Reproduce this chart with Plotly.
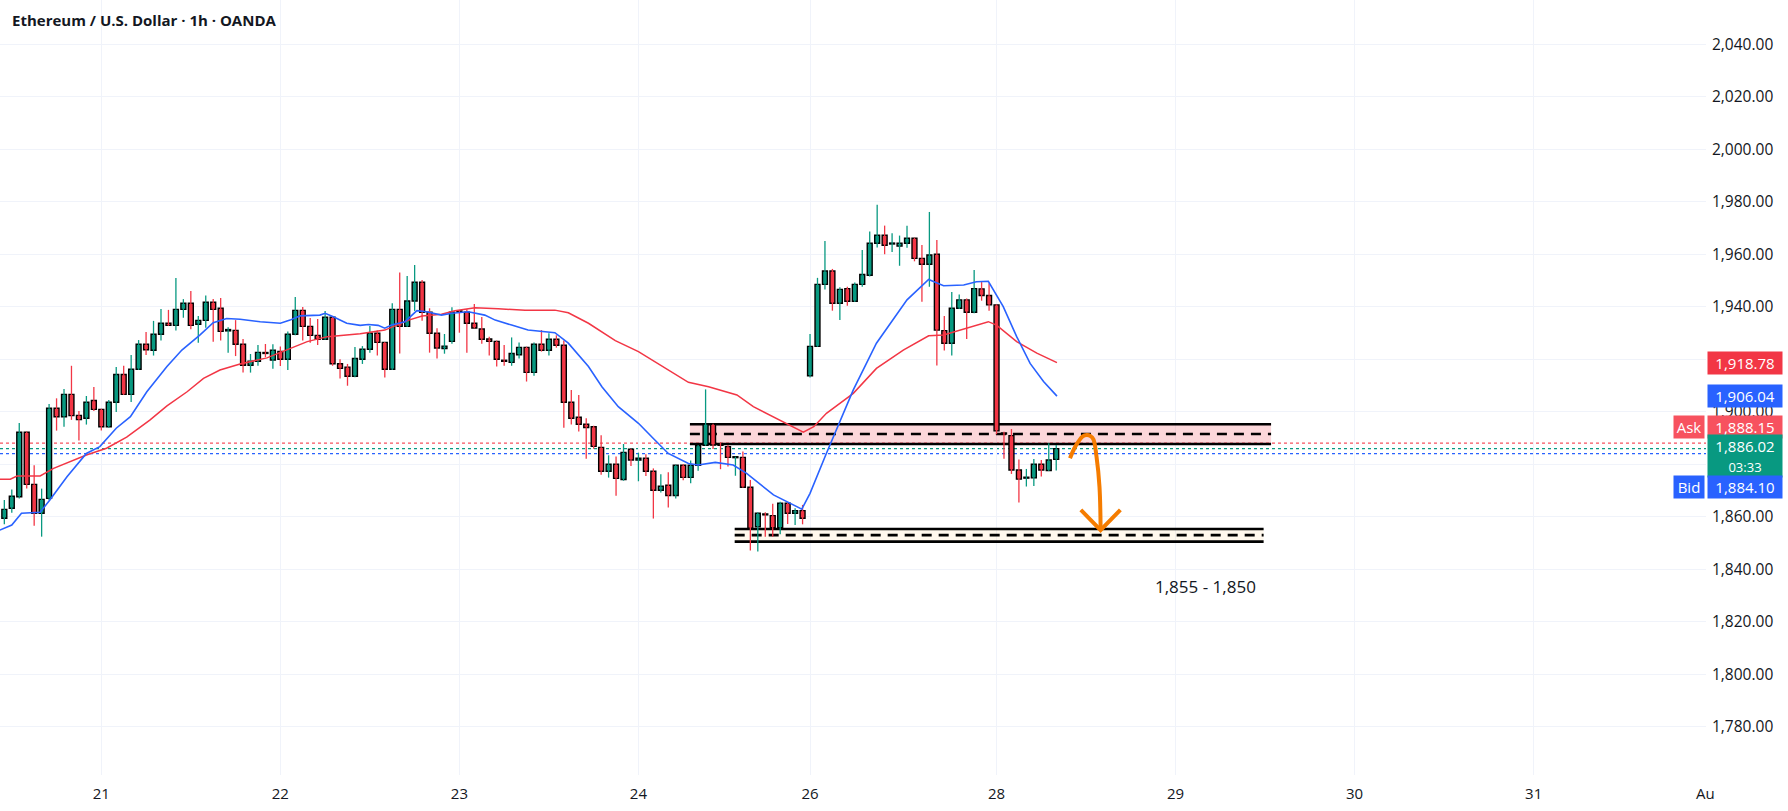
import plotly.graph_objects as go

# ETH/USD 1h candles (bar index on x)
opens = [1859.5, 1863.3, 1867.7, 1892.3, 1872.4, 1861.4, 1867.1, 1901.4, 1898.2, 1906.7,
         1898.7, 1897.6, 1904.4, 1901.0, 1894.4, 1903.7, 1914.3, 1906.7, 1916.3, 1925.8,
         1923.5, 1929.6, 1933.8, 1933.0, 1939.1, 1941.4, 1933.4, 1934.9, 1941.8, 1939.5,
         1930.9, 1931.1, 1925.8, 1917.8, 1919.3, 1922.6, 1919.8, 1923.1, 1920.1, 1929.6,
         1938.7, 1932.6, 1929.2, 1927.7, 1936.1, 1918.4, 1917.1, 1913.6, 1920.1, 1923.9,
         1930.0, 1926.5, 1916.3, 1939.1, 1932.6, 1942.3, 1949.4, 1938.0, 1930.0, 1924.2,
         1926.9, 1938.5, 1938.0, 1933.8, 1931.6, 1927.8, 1926.9, 1919.7, 1918.9, 1921.8,
         1924.6, 1915.1, 1925.8, 1923.5, 1927.7, 1925.4, 1903.7, 1898.0, 1895.3, 1894.4,
         1886.5, 1877.4, 1880.1, 1874.3, 1885.8, 1881.7, 1882.4, 1877.4, 1870.2, 1872.1,
         1868.2, 1879.7, 1875.1, 1879.7, 1887.3, 1895.3, 1887.7, 1886.8, 1882.6, 1882.7,
         1871.3, 1856.3, 1861.0, 1860.5, 1855.9, 1865.2, 1861.4, 1862.4, 1913.8, 1925.0,
         1948.6, 1953.7, 1941.4, 1947.0, 1942.2, 1948.6, 1952.1, 1964.3, 1967.3, 1964.0,
         1963.2, 1964.3, 1966.2, 1958.5, 1956.3, 1960.1, 1931.0, 1926.2, 1939.5, 1942.7,
         1938.0, 1946.9, 1944.4, 1940.8, 1892.0, 1891.0, 1877.9, 1874.8, 1874.9, 1880.1,
         1877.7, 1881.95]
highs = [1866.5, 1870.5, 1895.8, 1892.6, 1879.7, 1870.8, 1903.0, 1905.2, 1908.8, 1917.6,
         1900.4, 1906.1, 1909.5, 1901.2, 1904.6, 1917.1, 1917.6, 1921.7, 1927.4, 1930.5,
         1934.7, 1939.2, 1938.9, 1951.0, 1943.0, 1946.1, 1936.6, 1944.4, 1943.0, 1943.4,
         1932.3, 1935.0, 1927.8, 1922.1, 1925.5, 1925.9, 1925.8, 1924.9, 1930.7, 1943.8,
         1940.0, 1935.8, 1935.4, 1938.5, 1936.3, 1920.1, 1918.3, 1924.8, 1925.1, 1932.8,
         1931.0, 1926.7, 1941.4, 1953.1, 1951.8, 1956.0, 1950.3, 1939.5, 1931.9, 1929.7,
         1939.9, 1938.7, 1939.1, 1941.1, 1936.2, 1928.7, 1927.2, 1925.5, 1928.4, 1926.5,
         1924.9, 1926.5, 1931.2, 1930.0, 1929.2, 1927.2, 1908.4, 1906.5, 1897.6, 1894.8,
         1891.1, 1883.5, 1883.0, 1887.8, 1886.1, 1884.5, 1883.9, 1878.5, 1876.3, 1877.0,
         1879.9, 1880.2, 1881.5, 1887.4, 1908.6, 1895.5, 1888.4, 1887.4, 1883.0, 1884.9,
         1874.1, 1861.8, 1861.8, 1865.0, 1865.8, 1865.5, 1863.3, 1864.6, 1929.7, 1951.1,
         1965.1, 1954.5, 1947.5, 1947.7, 1949.3, 1961.7, 1968.8, 1978.9, 1971.0, 1968.1,
         1967.2, 1970.9, 1966.4, 1963.6, 1976.2, 1965.5, 1936.6, 1945.7, 1944.8, 1943.2,
         1954.1, 1949.5, 1949.0, 1941.0, 1892.5, 1893.5, 1881.9, 1878.3, 1882.1, 1881.7,
         1888.1, 1887.4]
lows = [1857.2, 1861.6, 1867.0, 1870.8, 1856.7, 1852.5, 1866.5, 1892.9, 1894.4, 1897.0,
        1889.1, 1895.2, 1900.4, 1892.9, 1894.0, 1900.0, 1906.5, 1903.8, 1916.0, 1921.7,
        1921.5, 1927.2, 1932.8, 1931.0, 1935.9, 1931.5, 1926.4, 1932.1, 1926.8, 1927.2,
        1922.6, 1921.3, 1915.0, 1915.0, 1917.6, 1920.9, 1916.5, 1917.5, 1916.0, 1929.2,
        1927.2, 1926.4, 1925.5, 1927.5, 1917.6, 1912.8, 1910.0, 1913.2, 1918.3, 1922.6,
        1921.5, 1913.1, 1916.0, 1922.3, 1932.4, 1938.5, 1934.8, 1922.6, 1920.4, 1922.2,
        1926.0, 1930.2, 1922.6, 1931.8, 1926.0, 1921.5, 1917.3, 1917.6, 1917.6, 1920.4,
        1911.6, 1913.8, 1923.0, 1921.5, 1924.5, 1894.0, 1895.2, 1892.6, 1882.2, 1886.0,
        1876.1, 1875.0, 1868.1, 1873.8, 1879.4, 1873.6, 1875.6, 1859.4, 1869.3, 1863.6,
        1867.0, 1874.0, 1872.8, 1877.6, 1887.1, 1885.9, 1878.2, 1879.2, 1875.7, 1871.1,
        1847.2, 1846.8, 1852.5, 1852.5, 1853.4, 1857.3, 1856.9, 1857.2, 1913.1, 1924.8,
        1946.7, 1938.6, 1935.0, 1940.5, 1941.9, 1947.7, 1951.6, 1962.7, 1960.1, 1960.9,
        1955.7, 1962.6, 1957.4, 1942.0, 1947.7, 1917.7, 1923.4, 1921.5, 1939.2, 1927.8,
        1937.6, 1942.4, 1938.6, 1891.5, 1882.2, 1876.4, 1865.5, 1871.6, 1871.8, 1875.4,
        1877.5, 1877.7]
closes = [1862.9, 1867.9, 1892.3, 1872.4, 1861.4, 1866.7, 1901.4, 1898.2, 1906.7, 1898.6,
          1897.1, 1903.7, 1901.0, 1894.4, 1903.7, 1914.3, 1906.7, 1916.3, 1925.8, 1923.7,
          1929.6, 1933.8, 1933.0, 1939.1, 1941.4, 1933.0, 1934.9, 1941.8, 1939.1, 1930.7,
          1931.4, 1925.8, 1917.8, 1919.3, 1922.7, 1922.3, 1923.5, 1920.1, 1929.6, 1938.7,
          1932.6, 1929.2, 1927.7, 1936.1, 1918.4, 1916.6, 1913.6, 1920.4, 1923.9, 1930.0,
          1926.5, 1916.3, 1939.1, 1932.6, 1942.3, 1949.4, 1938.0, 1930.0, 1924.4, 1925.1,
          1938.0, 1938.1, 1933.8, 1932.0, 1927.7, 1926.9, 1920.1, 1919.3, 1922.3, 1924.6,
          1915.1, 1925.8, 1923.5, 1927.7, 1925.4, 1903.7, 1897.6, 1895.3, 1894.1, 1886.9,
          1877.4, 1880.1, 1874.7, 1884.6, 1881.7, 1882.4, 1877.4, 1870.2, 1871.7, 1868.2,
          1879.7, 1875.1, 1879.7, 1887.2, 1895.4, 1887.4, 1887.3, 1882.7, 1882.8, 1871.3,
          1855.7, 1861.4, 1860.8, 1855.9, 1865.2, 1861.4, 1862.4, 1859.5, 1925.0, 1948.6,
          1953.7, 1941.4, 1946.7, 1942.2, 1948.6, 1952.4, 1964.3, 1967.3, 1963.5, 1964.2,
          1964.3, 1966.2, 1958.5, 1956.3, 1959.8, 1931.2, 1926.2, 1939.5, 1942.7, 1938.0,
          1947.0, 1944.4, 1940.8, 1892.8, 1891.6, 1877.9, 1874.4, 1875.0, 1880.1, 1877.9,
          1881.7, 1886.02]

# moving averages, sampled along the drawn lines
fast_ma_x = [-0.6, 1, 2.3, 4.8, 6.1, 8.4, 11, 12.8, 15, 16.9, 19.1, 21.8, 23.8, 26.2, 28,
             29.8, 31.6, 34.3, 37, 38.3, 39.6, 42.3, 43, 44.1, 45.9, 47.7, 48.8, 50.1, 51,
             51.9, 53.7, 55.3, 56.6, 58.6, 60, 62.2, 64.4, 65.8, 68, 69.3, 70.2, 73.8, 75.6,
             78.3, 80.1, 82.3, 85, 87.2, 89, 91.7, 93, 95.3, 97.7, 99.5, 103.1, 106.9, 108,
             110.2, 112.5, 113.8, 116.9, 121, 123.9, 125.9, 128.6, 130.3, 131.9, 133.9,
             135.7, 137.5, 139.3, 141.1]
fast_ma_y = [1855.0, 1856.9, 1861.4, 1861.8, 1866.5, 1875.3, 1884.2, 1886.8, 1893.8, 1898.2,
             1907.7, 1917.3, 1923.6, 1929.3, 1934.0, 1935.6, 1935.3, 1934.4, 1933.8, 1935.0,
             1936.6, 1936.9, 1937.6, 1936.3, 1933.8, 1933.0, 1933.3, 1933.0, 1931.9, 1933.1,
             1934.4, 1938.6, 1938.2, 1936.9, 1937.6, 1938.2, 1936.9, 1935.0, 1933.1, 1931.9,
             1931.2, 1930.2, 1926.2, 1917.3, 1909.6, 1902.0, 1895.7, 1889.3, 1884.2, 1880.4,
             1879.8, 1880.8, 1879.8, 1876.6, 1868.4, 1863.0, 1869.0, 1884.3, 1899.5, 1908.4,
             1926.2, 1942.7, 1950.5, 1948.1, 1948.4, 1949.6, 1949.8, 1940.1, 1928.7, 1918.5,
             1911.6, 1906.04]
slow_ma_x = [-0.6, 0.8, 1.7, 4.8, 6.6, 8.4, 11, 13.7, 16.4, 19.5, 21.8, 24.5, 26.7, 28.9,
             31.6, 35.2, 37.9, 40.6, 43.3, 45.9, 47.7, 51, 54.2, 56, 58.6, 60.4, 63.1, 66.2,
             69.8, 73.8, 75.6, 78.3, 81.9, 85, 89, 91.7, 94.4, 98.2, 100.4, 103.1, 107.1,
             108.5, 110.2, 113.8, 116.9, 120.5, 123.9, 125.9, 128.6, 131.9, 133, 135.7,
             138.4, 141.1]
slow_ma_y = [1874.4, 1874.4, 1875.6, 1875.6, 1878.5, 1880.7, 1883.6, 1886.2, 1890.4, 1896.9,
             1902.3, 1907.7, 1912.8, 1916.0, 1918.3, 1920.6, 1923.6, 1926.8, 1928.7, 1929.3,
             1929.8, 1931.2, 1935.0, 1936.6, 1937.2, 1938.6, 1939.7, 1939.3, 1938.8, 1938.8,
             1937.8, 1933.8, 1927.2, 1923.0, 1916.0, 1911.3, 1909.6, 1906.5, 1902.0, 1898.2,
             1892.3, 1894.4, 1899.5, 1907.1, 1916.6, 1923.6, 1929.0, 1929.3, 1931.5, 1934.4,
             1933.1, 1926.8, 1922.4, 1918.78]

day_ticks = [13, 37, 61, 85, 108, 133, 157, 181, 205, 228]
day_labels = ['21', '22', '23', '24', '26', '28', '29', '30', '31', 'Au']
price_ticks = [1780, 1800, 1820, 1840, 1860, 1880, 1900, 1920, 1940, 1960, 1980, 2000, 2020, 2040]
# the scale hides the labels that sit under the price tags
hidden_price_labels = [1880, 1920]

# drawn zones: [x start, x end, top, middle, bottom]
resist_zone = [91.9, 169.8, 1895.3, 1891.6, 1887.8]
support_zone = [97.9, 168.8, 1855.4, 1853.1, 1850.6]
support_label = '1,855 - 1,850'

# hand drawn arrow
arrow_x = [142.85, 143.4, 143.97, 144.5, 145.1, 145.6, 146.0, 146.4, 146.8, 146.95]
arrow_y = [1882.4, 1886.0, 1888.7, 1890.6, 1891.2, 1890.8, 1889.5, 1883.0, 1871.5, 1856.0]
arrow_head_x = [144.3, 146.95, 149.6]
arrow_head_y = [1862.7, 1855.0, 1862.7]

ask_price = 1888.15
last_price = 1886.02
bid_price = 1884.10
countdown = '03:33'

GREEN = '#089981'
RED = '#f23645'
ASK_RED = '#f7525f'
BLUE = '#2962ff'
GRID = '#f0f3fa'
TXT = '#131722'
FONT = 'Open Sans'

idx = list(range(len(closes)))
rising = [c >= o for o, c in zip(opens, closes)]

fig = go.Figure()

# wicks
for want, col in [(True, GREEN), (False, RED)]:
    wx, wy = [], []
    for i in idx:
        if rising[i] == want:
            wx += [i, i, None]
            wy += [lows[i], highs[i], None]
    fig.add_trace(go.Scatter(x=wx, y=wy, mode='lines', line=dict(color=col, width=1.3),
                             hoverinfo='skip'))

# bodies with dark outline
fig.add_trace(go.Bar(
    x=idx,
    base=[min(o, c) for o, c in zip(opens, closes)],
    y=[max(abs(c - o), 0.35) for o, c in zip(opens, closes)],
    width=0.66,
    marker=dict(color=[GREEN if r else RED for r in rising],
                line=dict(color='#000000', width=1.4)),
    hoverinfo='skip'))

fig.add_trace(go.Scatter(x=slow_ma_x, y=slow_ma_y, mode='lines',
                         line=dict(color=RED, width=1.5)))
fig.add_trace(go.Scatter(x=fast_ma_x, y=fast_ma_y, mode='lines',
                         line=dict(color=BLUE, width=1.6)))

# orange arrow
fig.add_trace(go.Scatter(x=arrow_x, y=arrow_y, mode='lines',
                         line=dict(color='#f57c00', width=4, shape='spline')))
fig.add_trace(go.Scatter(x=arrow_head_x, y=arrow_head_y, mode='lines',
                         line=dict(color='#f57c00', width=4)))

# zones
for zone, fill in [(resist_zone, 'rgba(242,54,69,0.2)'), (support_zone, 'rgba(255,152,0,0.07)')]:
    x0, x1, top, mid, bot = zone
    fig.add_shape(type='rect', xref='x', yref='y', x0=x0, x1=x1, y0=bot, y1=top,
                  fillcolor=fill, line_width=0, layer='between')
    for yv, dash in [(top, 'solid'), (bot, 'solid'), (mid, '10px,7px')]:
        fig.add_shape(type='line', xref='x', yref='y', x0=x0, x1=x1, y0=yv, y1=yv,
                      line=dict(color='#000000', width=2.6, dash=dash), layer='between')

# ask / last / bid dotted lines
for pv, col in [(ask_price, ASK_RED), (last_price, GREEN), (bid_price, BLUE)]:
    fig.add_shape(type='line', xref='paper', yref='y', x0=0, x1=1, y0=pv, y1=pv,
                  line=dict(color=col, width=1.3, dash='dot'), layer='between')

fig.add_annotation(x=support_zone[1] - 0.7, y=1833.7, xref='x', yref='y', text=support_label,
                   showarrow=False, xanchor='right', yanchor='middle',
                   font=dict(family=FONT, size=17, color=TXT))

# price tags on the scale
tags = [
    (slow_ma_y[-1], f'{slow_ma_y[-1]:,.2f}', RED, 0),
    (fast_ma_y[-1], f'{fast_ma_y[-1]:,.2f}', BLUE, 0),
    (ask_price, f'{ask_price:,.2f}', ASK_RED, 16),
    (last_price, f'{last_price:,.2f}<br><span style="font-size:13px">{countdown}</span>', GREEN, -7),
    (bid_price, f'{bid_price:,.2f}', BLUE, -33),
]
for pv, txt, col, shift in tags:
    fig.add_annotation(x=1, y=pv, xref='paper', yref='y', text=txt, showarrow=False,
                       xanchor='left', yanchor='middle', xshift=1, yshift=shift,
                       width=72, align='center', bgcolor=col, borderpad=1,
                       font=dict(family=FONT, size=15, color='#ffffff'))
for pv, txt, col, shift in [(ask_price, 'Ask', ASK_RED, 16), (bid_price, 'Bid', BLUE, -33)]:
    fig.add_annotation(x=1, y=pv, xref='paper', yref='y', text=txt, showarrow=False,
                       xanchor='right', yanchor='middle', xshift=-1, yshift=shift,
                       width=28, align='center', bgcolor=col, borderpad=1,
                       font=dict(family=FONT, size=15, color='#ffffff'))

fig.add_annotation(x=0, y=1, xref='paper', yref='paper', xanchor='left', yanchor='middle',
                   xshift=10, yshift=-20, showarrow=False,
                   text='<b>Ethereum / U.S. Dollar · 1h · OANDA</b>',
                   font=dict(family=FONT, size=15, color=TXT))

price_labels = ['' if v in hidden_price_labels else f'{v:,.2f}' for v in price_ticks]

fig.update_layout(
    width=1788, height=811,
    margin=dict(l=0, r=82, t=0, b=36, autoexpand=False),
    paper_bgcolor='#ffffff', plot_bgcolor='#ffffff',
    showlegend=False, barmode='overlay', hovermode=False,
    font=dict(family=FONT, size=15, color=TXT),
    xaxis=dict(range=[-0.58, 228.1], tickmode='array', tickvals=day_ticks, ticktext=day_labels,
               showgrid=True, gridcolor=GRID, gridwidth=1, zeroline=False, showline=False,
               ticks='', ticklabelstandoff=8, tickfont=dict(size=15, color=TXT)),
    yaxis=dict(range=[1761.7, 2056.95], side='right', tickmode='array', tickvals=price_ticks,
               ticktext=price_labels, showgrid=True, gridcolor=GRID, gridwidth=1,
               zeroline=False, showline=False, ticks='', ticklabelstandoff=5,
               tickfont=dict(size=15.5, color=TXT)),
)

fig.write_html('out.html', config={'displayModeBar': False},
               post_script="document.body.style.margin='0';"
                           "document.body.style.overflow='hidden';")
